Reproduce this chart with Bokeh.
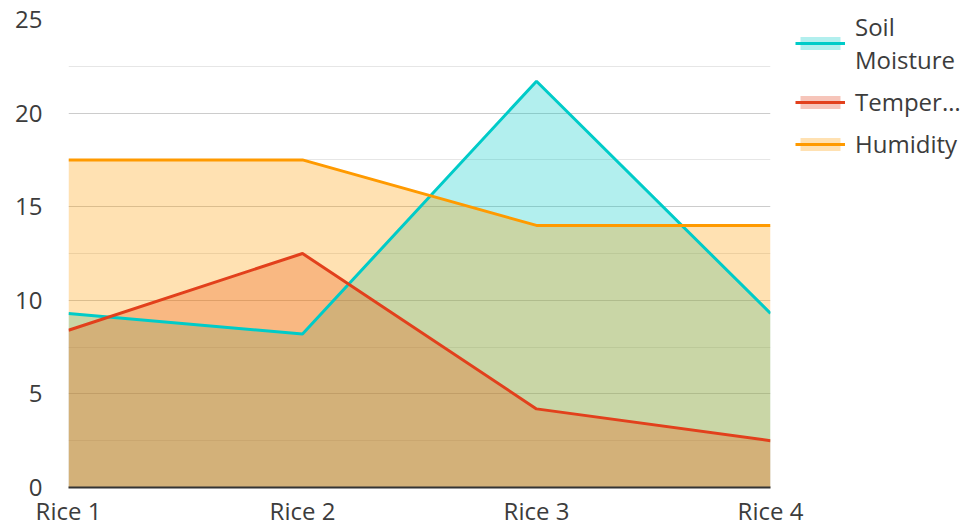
from bokeh.plotting import figure
from bokeh.models import Range1d, FixedTicker, Legend, LegendItem
from bokeh.embed import file_html
from bokeh.resources import INLINE

categories = ["Rice 1", "Rice 2", "Rice 3", "Rice 4"]
soil_moisture = [9.3, 8.2, 21.7, 9.3]
temperature = [8.4, 12.5, 4.2, 2.5]
humidity = [17.5, 17.5, 14.0, 14.0]
y_ticks = [0, 5, 10, 15, 20, 25]

series_names = ["Soil\nMoisture", "Temper\u2026", "Humidity"]
series_values = [soil_moisture, temperature, humidity]
series_colors = ["#00CBC8", "#E2401C", "#FF9A00"]

xs = list(range(len(categories)))

p = figure(frame_width=702, frame_height=468, output_backend="svg", toolbar_location=None,
           x_range=Range1d(xs[0], xs[-1]), y_range=Range1d(y_ticks[0], y_ticks[-1]),
           min_border_left=68, min_border_right=195, min_border_top=19, min_border_bottom=41)
p.outline_line_color = None
p.background_fill_color = "white"

FONT = "Open Sans"
TXT = "#3c3c3c"

p.xaxis.ticker = FixedTicker(ticks=xs)
p.xaxis.major_label_overrides = {x: c for x, c in zip(xs, categories)}
p.xaxis.axis_line_color = "#333333"
p.xaxis.axis_line_width = 2
p.xaxis.major_tick_line_color = None
p.xaxis.minor_tick_line_color = None
p.xaxis.major_tick_out = 0
p.xaxis.major_tick_in = 0
p.xaxis.minor_tick_out = 0
p.xaxis.major_label_standoff = 6
p.xaxis.major_label_text_font = FONT
p.xaxis.major_label_text_font_size = "24px"
p.xaxis.major_label_text_color = TXT

minor = [(a + b) / 2 for a, b in zip(y_ticks[:-1], y_ticks[1:])]
p.yaxis.ticker = FixedTicker(ticks=y_ticks, minor_ticks=minor)
p.yaxis.axis_line_color = None
p.yaxis.major_tick_line_color = None
p.yaxis.minor_tick_line_color = None
p.yaxis.major_tick_out = 0
p.yaxis.major_tick_in = 0
p.yaxis.minor_tick_out = 0
p.yaxis.major_label_standoff = 26
p.yaxis.major_label_text_font = FONT
p.yaxis.major_label_text_font_size = "24px"
p.yaxis.major_label_text_color = TXT

p.xgrid.grid_line_color = None
p.ygrid.grid_line_color = "#cccccc"
p.ygrid.grid_line_width = 1
p.ygrid.minor_grid_line_color = "#e6e6e6"

areas = []
for vals, col in zip(series_values, series_colors):
    areas.append(p.varea(x=xs, y1=[0] * len(vals), y2=vals, fill_color=col, fill_alpha=0.3))
lines = []
for vals, col in zip(series_values, series_colors):
    lines.append(p.line(x=xs, y=vals, line_color=col, line_width=3))

items = [LegendItem(label=n, renderers=[a, l]) for n, a, l in zip(series_names, areas, lines)]
legend = Legend(items=items, location=(25, 327), orientation="vertical",
                glyph_width=50, glyph_height=16, label_standoff=10, spacing=9,
                padding=0, margin=0,
                label_text_font=FONT, label_text_font_size="24px", label_text_color=TXT,
                label_text_line_height=1.1,
                background_fill_alpha=0, border_line_color=None)
p.add_layout(legend, "right")

open("out.html", "w").write(file_html(p, INLINE))
